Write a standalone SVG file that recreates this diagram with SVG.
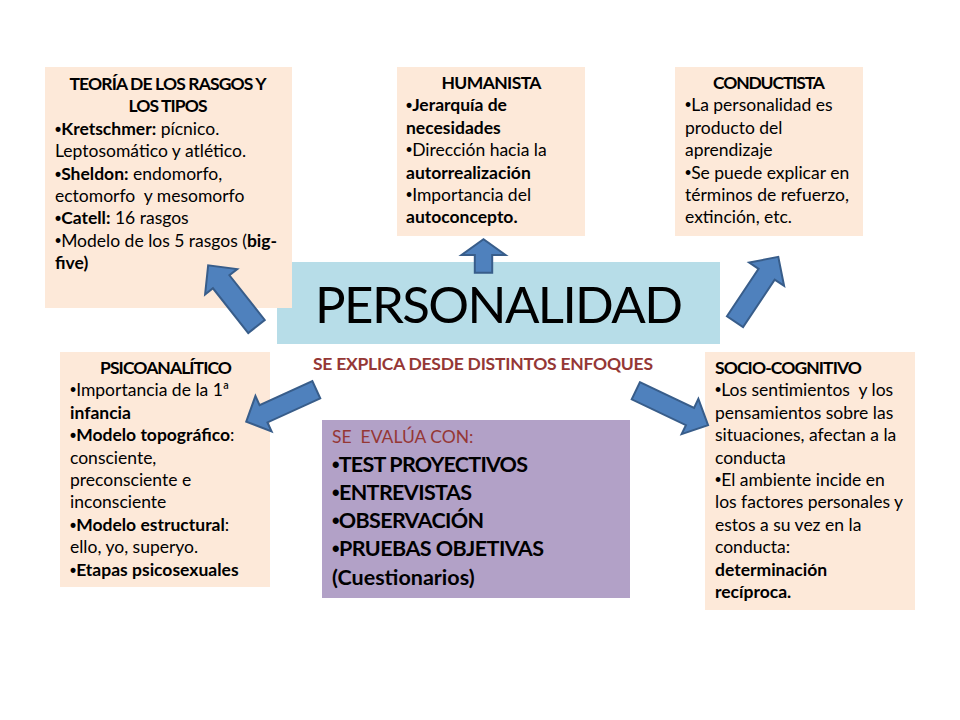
<svg xmlns="http://www.w3.org/2000/svg" width="960" height="720" viewBox="0 0 960 720">
<defs>
<style>
.peach{fill:#FDE9D9}
.blue{fill:#B7DDE8}
.purple{fill:#B2A1C7}
.arr{fill:#4F81BD;stroke:#385D8A;stroke-width:2;stroke-linejoin:miter}
text{font-family:Lato,"Liberation Sans",sans-serif;font-size:17.5px;fill:#000;white-space:pre}
.b{font-weight:bold}
.c{text-anchor:middle}
.red{fill:#953735}
.big{font-size:21.5px;font-weight:bold}
.title{font-size:51px}
.bu{font-family:"Liberation Sans",sans-serif}
</style>
</defs>
<rect width="960" height="720" fill="#fff"/>

<g id="personalidad">
<rect class="blue" x="277" y="262" width="443" height="82"/>
<text class="c title" x="499" y="323" textLength="368">PERSONALIDAD</text>
</g>

<g id="enfoques-label">
<text class="c b red" x="483" y="370" textLength="340">SE EXPLICA DESDE DISTINTOS ENFOQUES</text>
</g>

<g id="rasgos">
<rect class="peach" x="45" y="67" width="247" height="241"/>
<text class="c b" x="168" y="90" textLength="197">TEORÍA DE LOS RASGOS Y</text>
<text class="c b" x="168" y="112.4" textLength="79">LOS TIPOS</text>
<text x="55" y="134.8"><tspan class="b"><tspan class="bu">•</tspan>Kretschmer:</tspan> pícnico.</text>
<text x="55" y="157.2">Leptosomático y atlético.</text>
<text x="55" y="179.6"><tspan class="b"><tspan class="bu">•</tspan>Sheldon:</tspan> endomorfo,</text>
<text x="55" y="202">ectomorfo  y mesomorfo</text>
<text x="55" y="224.4"><tspan class="b"><tspan class="bu">•</tspan>Catell:</tspan> 16 rasgos</text>
<text x="55" y="246.8"><tspan class="bu">•</tspan>Modelo de los 5 rasgos (<tspan class="b">big-</tspan></text>
<text class="b" x="55" y="269.2">five)</text>
</g>

<g id="humanista">
<rect class="peach" x="397" y="67" width="188" height="169"/>
<text class="c b" x="491.5" y="89" textLength="100">HUMANISTA</text>
<text class="b" x="406" y="111.4"><tspan class="bu">•</tspan>Jerarquía de</text>
<text class="b" x="406" y="133.8">necesidades</text>
<text x="406" y="156.2"><tspan class="bu">•</tspan>Dirección hacia la</text>
<text class="b" x="406" y="178.6">autorrealización</text>
<text x="406" y="201"><tspan class="bu">•</tspan>Importancia del</text>
<text class="b" x="406" y="223.4">autoconcepto.</text>
</g>

<g id="conductista">
<rect class="peach" x="675" y="67" width="188" height="169"/>
<text class="c b" x="769" y="89" textLength="112">CONDUCTISTA</text>
<text x="685" y="111.4"><tspan class="bu">•</tspan>La personalidad es</text>
<text x="685" y="133.8">producto del</text>
<text x="685" y="156.2">aprendizaje</text>
<text x="685" y="178.6"><tspan class="bu">•</tspan>Se puede explicar en</text>
<text x="685" y="201">términos de refuerzo,</text>
<text x="685" y="223.4">extinción, etc.</text>
</g>

<g id="psicoanalitico">
<rect class="peach" x="60" y="352" width="210" height="235"/>
<text class="c b" x="166" y="374" textLength="132">PSICOANALÍTICO</text>
<text x="70" y="396.4"><tspan class="bu">•</tspan>Importancia de la 1ª</text>
<text class="b" x="70" y="418.8">infancia</text>
<text x="70" y="441.2"><tspan class="b"><tspan class="bu">•</tspan>Modelo topográfico</tspan>:</text>
<text x="70" y="463.6">consciente,</text>
<text x="70" y="486">preconsciente e</text>
<text x="70" y="508.4">inconsciente</text>
<text x="70" y="530.8"><tspan class="b"><tspan class="bu">•</tspan>Modelo estructural</tspan>:</text>
<text x="70" y="553.2">ello, yo, superyo.</text>
<text class="b" x="70" y="575.6"><tspan class="bu">•</tspan>Etapas psicosexuales</text>
</g>

<g id="evaluacion">
<rect class="purple" x="322" y="420" width="308" height="178"/>
<text class="red" x="332" y="443">SE  EVALÚA CON:</text>
<text class="big" x="332" y="471.5" textLength="196"><tspan class="bu">•</tspan>TEST PROYECTIVOS</text>
<text class="big" x="332" y="499.8" textLength="140"><tspan class="bu">•</tspan>ENTREVISTAS</text>
<text class="big" x="332" y="528.1" textLength="152"><tspan class="bu">•</tspan>OBSERVACIÓN</text>
<text class="big" x="332" y="556.4" textLength="212"><tspan class="bu">•</tspan>PRUEBAS OBJETIVAS</text>
<text class="big" x="332" y="584.7">(Cuestionarios)</text>
</g>

<g id="sociocognitivo">
<rect class="peach" x="705" y="352" width="210" height="258"/>
<text class="b" x="715" y="374" textLength="147">SOCIO-COGNITIVO</text>
<text x="715" y="396.4"><tspan class="bu">•</tspan>Los sentimientos  y los</text>
<text x="715" y="418.8">pensamientos sobre las</text>
<text x="715" y="441.2">situaciones, afectan a la</text>
<text x="715" y="463.6">conducta</text>
<text x="715" y="486"><tspan class="bu">•</tspan>El ambiente incide en</text>
<text x="715" y="508.4">los factores personales y</text>
<text x="715" y="530.8">estos a su vez en la</text>
<text x="715" y="553.2">conducta:</text>
<text class="b" x="715" y="575.6">determinación</text>
<text class="b" x="715" y="598">recíproca.</text>
</g>

<g id="connectors">
<polygon class="arr" points="0,-10.5 57,-10.5 57,-20.5 78,0 57,20.5 57,10.5 0,10.5" transform="translate(256.5,326.5) rotate(-128.3)"/>
<polygon class="arr" points="0,-8.7 17.7,-8.7 17.7,-22 33.4,0 17.7,22 17.7,8.7 0,8.7" transform="translate(483.5,272.7) rotate(-90)"/>
<polygon class="arr" points="0,-9.7 57,-9.7 57,-21 78,0 57,21 57,9.7 0,9.7" transform="translate(735,321.7) rotate(-56.3)"/>
<polygon class="arr" points="0,-9.5 58,-9.5 58,-19.5 77,0 58,19.5 58,9.5 0,9.5" transform="translate(316.3,389.7) rotate(155.5)"/>
<polygon class="arr" points="0,-9.5 60,-9.5 60,-19.5 80,0 60,19.5 60,9.5 0,9.5" transform="translate(635.8,390.8) rotate(25.4)"/>
</g>
</svg>
